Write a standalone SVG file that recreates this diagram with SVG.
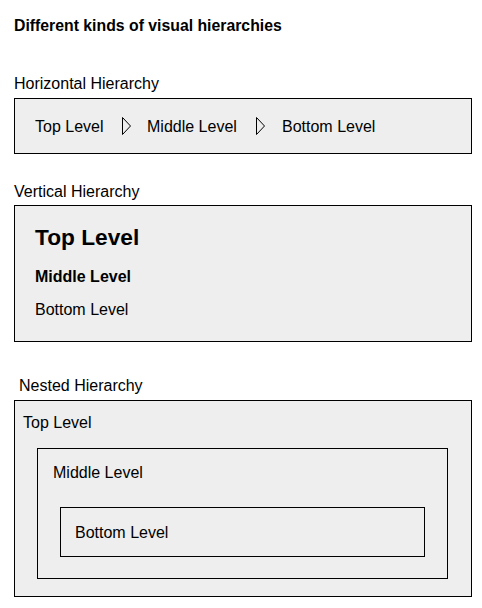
<svg xmlns="http://www.w3.org/2000/svg" width="482" height="608" viewBox="0 0 482 608">
<style>
text{font-family:"Liberation Sans",Arial,sans-serif;fill:#000;}
.box{fill:#eeeeee;stroke:#000;stroke-width:1;}
.lbl{font-size:16px;}
.chev{fill:none;stroke:#000;stroke-width:1;}
</style>
<rect width="482" height="608" fill="#fff"/>
<text x="14" y="31" style="font-size:15.8px;font-weight:bold">Different kinds of visual hierarchies</text>

<g id="horizontal">
<text class="lbl" x="14" y="89">Horizontal Hierarchy</text>
<rect class="box" x="14.5" y="98.5" width="457" height="55"/>
<text class="lbl" x="35" y="132">Top Level</text>
<text class="lbl" x="147" y="132">Middle Level</text>
<text class="lbl" x="282" y="132">Bottom Level</text>
</g>
<g id="connectors">
<path class="chev" d="M122.5,117.5 L130.5,126 L122.5,134.5 Z"/>
<path class="chev" d="M256.5,117.5 L264.5,126 L256.5,134.5 Z"/>
</g>

<g id="vertical">
<text class="lbl" x="14" y="197">Vertical Hierarchy</text>
<rect class="box" x="14.5" y="205.5" width="457" height="136"/>
<text x="35" y="245" style="font-size:22.7px;font-weight:bold">Top Level</text>
<text x="35" y="282" style="font-size:16px;font-weight:bold">Middle Level</text>
<text x="35" y="315" style="font-size:16px">Bottom Level</text>
</g>

<g id="nested">
<text class="lbl" x="19" y="391">Nested Hierarchy</text>
<rect class="box" x="14.5" y="400.5" width="457" height="196"/>
<text class="lbl" x="23" y="428">Top Level</text>
<rect class="box" x="37.5" y="448.5" width="410" height="130"/>
<text class="lbl" x="53" y="478">Middle Level</text>
<rect class="box" x="60.5" y="507.5" width="364" height="49"/>
<text class="lbl" x="75" y="538">Bottom Level</text>
</g>
</svg>
